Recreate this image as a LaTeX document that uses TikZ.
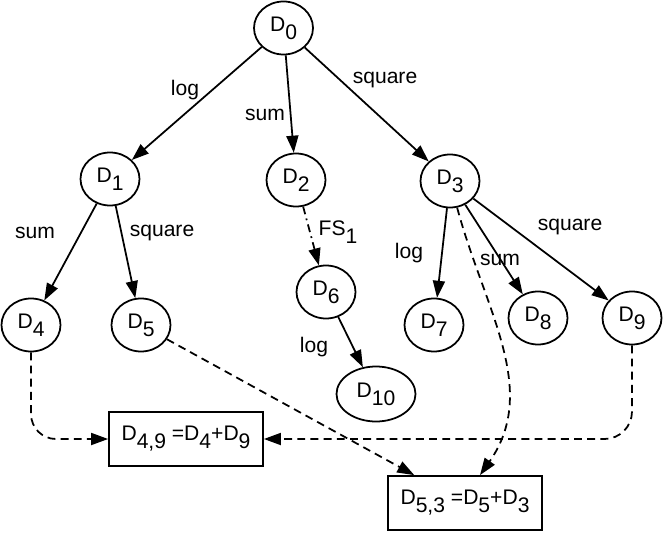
\documentclass[tikz,border=0pt]{standalone}
\usepackage{fontspec}
\setmainfont{Liberation Sans}
\usetikzlibrary{shapes.geometric,arrows.meta}
\newcommand{\lowsub}[1]{\raisebox{-0.38em}{#1}}

\begin{document}
\begin{tikzpicture}[>={Triangle[length=3.4mm,width=2.4mm]}, line width=1pt,
                    font=\fontsize{12}{14}\selectfont]
        \tikzstyle{ds_node}  = [shape = ellipse,   draw = black, inner sep=0pt, minimum width=1.18cm, minimum height=1.06cm]
        \tikzstyle{ds_wide}  = [ds_node, minimum width=1.58cm, minimum height=1.1cm]
        \tikzstyle{ds_sum}   = [shape = rectangle, draw = black, inner sep=0pt, minimum width=3.08cm, minimum height=1.08cm]
        \tikzstyle{ds_dash}  = [dash pattern=on 4.5pt off 3pt]
        \tikzstyle{ds_fs}    = [dash pattern=on 4.5pt off 2.5pt on 1pt off 2.5pt]

        \useasboundingbox (0,0) rectangle (13.32,10.68);

        \node[ds_node] at ( 5.67, 10.12) (d0)  {D\lowsub{0}};

        \node[ds_node] at ( 2.20,  7.10) (d1)  {D\lowsub{1}};
        \node          at ( 3.70,  8.88) (d1_t) {log};

        \node[ds_node] at ( 5.92,  7.08) (d2)  {D\lowsub{2}};
        \node          at ( 5.30,  8.38) (d2_t) {sum};

        \node[ds_node] at ( 9.00,  7.06) (d3)  {D\lowsub{3}};
        \node          at ( 7.70,  9.08) (d3_t) {square};

        \node[ds_node] at ( 0.62,  4.18) (d4)  {D\lowsub{4}};
        \node          at ( 0.70,  6.02) (d4_t) {sum};

        \node[ds_node] at ( 2.82,  4.18) (d5)  {D\lowsub{5}};
        \node          at ( 3.24,  6.02) (d5_t) {square};

        \node[ds_node] at ( 6.52,  4.84) (d6)  {D\lowsub{6}};
        \node          at ( 6.76,  6.04) (d6_t) {FS\lowsub{1}};

        \node[ds_node] at ( 8.68,  4.18) (d7)  {D\lowsub{7}};
        \node          at ( 8.18,  5.62) (d7_t) {log};

        \node[ds_node] at (10.76,  4.32) (d8)  {D\lowsub{8}};
        \node          at (10.00,  5.48) (d8_t) {sum};

        \node[ds_node] at (12.64,  4.32) (d9)  {D\lowsub{9}};
        \node          at (11.40,  6.14) (d9_t) {square};

        \node[ds_wide] at ( 7.52,  2.80) (d10) {D\lowsub{10}};
        \node          at ( 6.28,  3.74) (d10_t) {log};

        \node[ds_sum]  at ( 3.72,  1.90) (d49) {D\lowsub{4,9} =D\lowsub{4}+D\lowsub{9}};
        \node[ds_sum]  at ( 9.30,  0.62) (d53) {D\lowsub{5,3} =D\lowsub{5}+D\lowsub{3}};

        \draw[->]
          (d0) edge (d1)
          (d0) edge (d2)
          (d0) edge (d3)
          (d1) edge (d4)
          (d1) edge (d5)
          (d3) edge (d7)
          (d3) edge (d8)
          (d3) edge (d9)
          (d6) edge (d10)
        ;

        \draw[->, ds_fs] (d2) -- (d6);

        \draw[->, ds_dash] (d5) -- (d53);
        \draw[->, ds_dash] (d3.-75) to[out=-75, in=55] ([xshift=0.3cm]d53.north);

        \draw[->, ds_dash, rounded corners=0.5cm] (d4.south) |- (d49.west);
        \draw[->, ds_dash, rounded corners=0.55cm] (d9.south) |- (d49.east);
      \end{tikzpicture}
\end{document}
